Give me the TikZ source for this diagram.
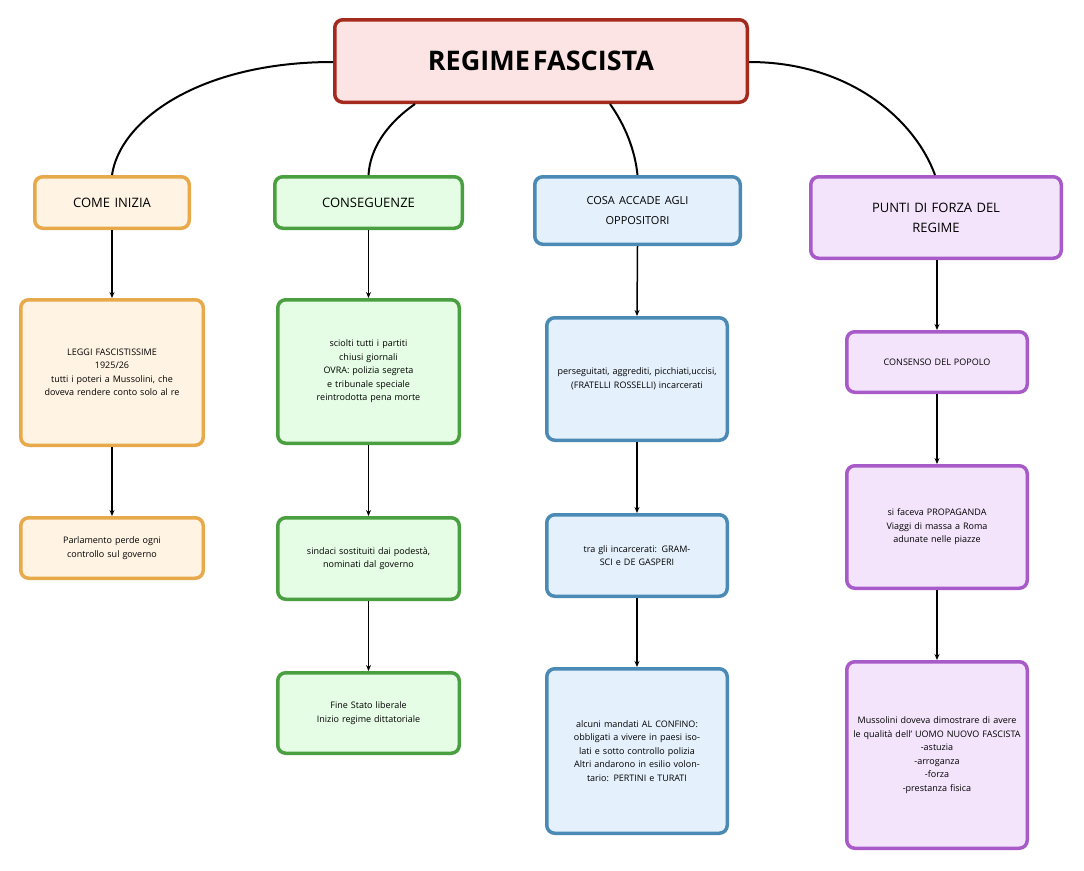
\documentclass[tikz,border=0pt]{standalone}
\usepackage{fontspec}
\setmainfont{Open Sans}
\usetikzlibrary{arrows.meta}
\definecolor{rb}{HTML}{A52A1E}\definecolor{rf}{HTML}{FDE4E4}
\definecolor{ob}{HTML}{E8A94A}\definecolor{of}{HTML}{FFF3E3}
\definecolor{gb}{HTML}{4AA040}\definecolor{gf}{HTML}{E4FDE4}
\definecolor{bb}{HTML}{4A8AB5}\definecolor{bf}{HTML}{E4F0FC}
\definecolor{pb}{HTML}{A85AC8}\definecolor{pf}{HTML}{F3E4FC}
\tikzset{
 bx/.style={draw=#1b,fill=#1f,line width=3.5pt,rounded corners=8pt,align=center,inner sep=2pt,font=\fontsize{9}{13.5}\selectfont},
 hd/.style={font=\fontsize{13}{20}\selectfont},
 ar/.style={-{Stealth[length=6pt,width=5pt]},line width=1.5pt},
 cu/.style={line width=2pt}
}
\newcommand{\bxat}[6]{\node[bx=#1,minimum width=#4-#2-3.5,minimum height=#5-#3-3.5,text width=#4-#2-12] (#6) at ({(#2+#4)/2},{(#3+#5)/2})}
\begin{document}
\begin{tikzpicture}[x=1pt,y=-1pt]
\useasboundingbox[fill=white] (0,0) rectangle (1084,870);
\bxat{r}{333}{18}{749}{104}{T} {\fontsize{27}{30}\selectfont\bfseries REGIME FASCISTA};
\bxat{o}{33}{175}{191}{230}{A} [hd]{COME INIZIA};
\bxat{g}{273}{175}{464}{230}{B} [hd]{CONSEGUENZE};
\bxat{b}{533}{175}{742}{246}{C} [hd]{\fontsize{11}{17}\selectfont COSA ACCADE AGLI\\OPPOSITORI};
\bxat{p}{809}{175}{1063}{260}{D} [hd]{PUNTI DI FORZA DEL\\REGIME};
\bxat{o}{19}{298}{205}{447}{A1} {LEGGI FASCISTISSIME\\1925/26\\tutti i poteri a Mussolini, che doveva rendere conto solo al re};
\bxat{o}{19}{516}{205}{580}{A2} {Parlamento perde ogni controllo sul governo};
\bxat{g}{276}{298}{461}{445}{B1} {sciolti tutti i partiti\\chiusi giornali\\OVRA: polizia segreta e tribunale speciale\\reintrodotta pena morte};
\bxat{g}{276}{516}{461}{601}{B2} {sindaci sostituiti dai podestà, nominati dal governo};
\bxat{g}{276}{671}{461}{755}{B3} {Fine Stato liberale\\Inizio regime dittatoriale};
\bxat{b}{545}{316}{729}{442}{C1} {perseguitati, aggrediti, picchiati,uccisi, (FRATELLI ROSSELLI) incarcerati};
\bxat{b}{545}{513}{729}{598}{C2} {tra gli incarcerati: GRAMSCI e DE GASPERI};
\bxat{b}{545}{667}{729}{835}{C3} {alcuni mandati AL CONFINO: obbligati a vivere in paesi isolati e sotto controllo polizia\\Altri andarono in esilio volontario: PERTINI e TURATI};
\bxat{p}{845}{330}{1029}{394}{D1} {CONSENSO DEL POPOLO};
\bxat{p}{845}{464}{1029}{590}{D2} {si faceva PROPAGANDA\\Viaggi di massa a Roma\\adunate nelle piazze};
\bxat{p}{845}{660}{1029}{850}{D3} {Mussolini doveva dimostrare di avere le qualità dell' UOMO NUOVO FASCISTA\\-astuzia\\-arroganza\\-forza\\-prestanza fisica};
\draw[cu] (T.west|-0,62) .. controls (200,62) and (120,120) .. (A.north);
\draw[cu] (415,104) .. controls (385,125) and (370,150) .. (B.north);
\draw[cu] (610,104) .. controls (625,125) and (635,150) .. (C.north);
\draw[cu] (T.east|-0,62) .. controls (850,62) and (915,120) .. (935,175);
\foreach \a/\b in {A/A1,A1/A2,B/B1,B1/B2,B2/B3,C/C1,C1/C2,C2/C3,D1/D2,D2/D3}
  \draw[ar] (\a.south) -- (\b.north);
\draw[ar] (D.south-|D1.north) -- (D1.north);
\end{tikzpicture}
\end{document}
